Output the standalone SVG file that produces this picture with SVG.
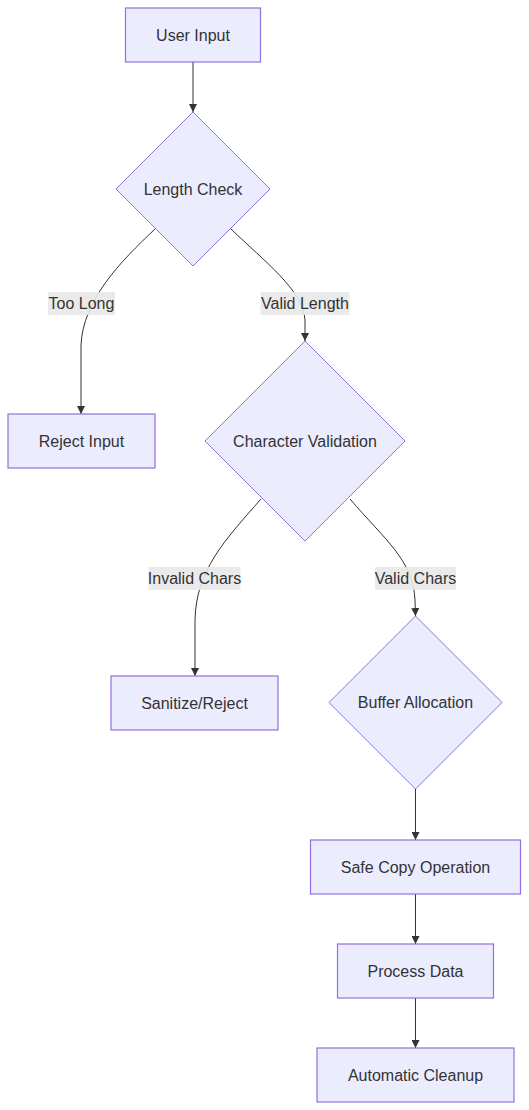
<svg xmlns="http://www.w3.org/2000/svg" width="529" height="1110" viewBox="0 0 529 1110">
<style>
.node rect{fill:#ECECFF;stroke:#9370DB;stroke-width:1.2}
.node polygon{fill:#ECECFF;stroke:#9370DB;stroke-width:1}
text{font-family:"Liberation Sans",Arial,sans-serif;font-size:16px;fill:#333;text-anchor:middle;dominant-baseline:central}
.edge{fill:none;stroke:#333;stroke-width:1}
.lbl rect{fill:#e8e8e8;opacity:0.9}
</style>
<defs>
<marker id="arr" viewBox="0 0 10 10" refX="10" refY="5" markerWidth="8" markerHeight="8" markerUnits="userSpaceOnUse" orient="auto">
<path d="M0,0 L10,5 L0,10 z" fill="#333"/>
</marker>
</defs>
<g id="edges">
<path class="edge" d="M193,62 L193,112" marker-end="url(#arr)"/>
<path class="edge" d="M155,229 C120,262 83,300 81,345 L81,414" marker-end="url(#arr)"/>
<path class="edge" d="M231,229 C265,262 303,290 305,320 L305,341" marker-end="url(#arr)"/>
<path class="edge" d="M261,499 C225,540 196,570 195,620 L195,676" marker-end="url(#arr)"/>
<path class="edge" d="M350,499 C385,540 413,560 415,600 L415.5,616" marker-end="url(#arr)"/>
<path class="edge" d="M415.5,789 L415.5,840" marker-end="url(#arr)"/>
<path class="edge" d="M415.5,894 L415.5,944" marker-end="url(#arr)"/>
<path class="edge" d="M415.5,998 L415.5,1048" marker-end="url(#arr)"/>
</g>
<g id="edge-labels">
<g class="lbl"><rect x="48" y="292" width="67" height="23"/><text x="81.5" y="303.5">Too Long</text></g>
<g class="lbl"><rect x="260.5" y="292" width="89" height="23"/><text x="305" y="303.5">Valid Length</text></g>
<g class="lbl"><rect x="148.5" y="567" width="92" height="23"/><text x="194.5" y="578.5">Invalid Chars</text></g>
<g class="lbl"><rect x="375" y="567" width="81" height="23"/><text x="415.5" y="578.5">Valid Chars</text></g>
</g>
<g id="n-user-input" class="node"><rect x="125.5" y="8" width="135" height="54"/><text x="193" y="35">User Input</text></g>
<g id="n-length-check" class="node"><polygon points="193,112 270,189 193,266 116,189"/><text x="193" y="189">Length Check</text></g>
<g id="n-reject-input" class="node"><rect x="8" y="414" width="147" height="54"/><text x="81.5" y="441">Reject Input</text></g>
<g id="n-char-validation" class="node"><polygon points="305,341 405,441 305,541 205,441"/><text x="305" y="441">Character Validation</text></g>
<g id="n-sanitize" class="node"><rect x="111" y="676" width="167" height="54"/><text x="194.5" y="703">Sanitize/Reject</text></g>
<g id="n-buffer" class="node"><polygon points="415.5,616 502,702.5 415.5,789 329,702.5"/><text x="415.5" y="702.5">Buffer Allocation</text></g>
<g id="n-safe-copy" class="node"><rect x="310.5" y="840" width="210" height="54"/><text x="415.5" y="867">Safe Copy Operation</text></g>
<g id="n-process" class="node"><rect x="337.5" y="944" width="156" height="54"/><text x="415.5" y="971">Process Data</text></g>
<g id="n-cleanup" class="node"><rect x="317" y="1048" width="197" height="54"/><text x="415.5" y="1075">Automatic Cleanup</text></g>
</svg>
